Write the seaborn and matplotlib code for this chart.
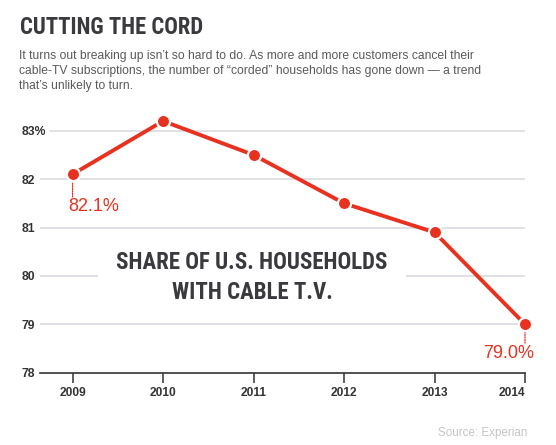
import matplotlib
matplotlib.use('Agg')
import matplotlib.pyplot as plt
import seaborn as sns
import pandas as pd

years = [2009, 2010, 2011, 2012, 2013, 2014]
share = [82.1, 83.2, 82.5, 81.5, 80.9, 79.0]
y_ticks = [78, 79, 80, 81, 82, 83]
y_tick_labels = ['78', '79', '80', '81', '82', '83%']

title = 'CUTTING THE CORD'
subtitle = [
    'It turns out breaking up isn\u2019t so hard to do. As more and more customers cancel their',
    'cable-TV subscriptions, the number of \u201ccorded\u201d households has gone down \u2014 a trend',
    'that\u2019s unlikely to turn.',
]
label = 'SHARE OF U.S. HOUSEHOLDS\nWITH CABLE T.V.'
source = 'Source: Experian'

RED = '#e8321f'
DARK = '#3a3a3e'
GRID = '#dcdce0'
narrow = ['Liberation Sans Narrow', 'Roboto Condensed', 'Roboto', 'DejaVu Sans']

sns.set_theme(style='white')
plt.rcParams['font.family'] = ['Liberation Sans', 'DejaVu Sans']

df = pd.DataFrame({'year': years, 'share': share})

fig = plt.figure(figsize=(5.56, 4.45), dpi=100)
ax = fig.add_axes([40 / 556, 72.3 / 445, 485 / 556, 256.5 / 445])

# grid lines (top one starts after the % label)
for v in y_ticks[1:]:
    ax.axhline(v, xmin=0.02 if v == 83 else 0, xmax=1, color=GRID, lw=1.2, zorder=0)

sns.lineplot(data=df, x='year', y='share', ax=ax, color=RED, lw=2.8,
             marker='o', markersize=9.5, markeredgecolor='white',
             markeredgewidth=1.6, clip_on=False, zorder=5)

ax.set_xlim(2008.64, 2014)
ax.set_ylim(78, 83.3)
ax.set_xticks(years)
ax.set_xticklabels([str(y) for y in years], fontweight='bold', fontsize=8.6, color='#333333')
ax.set_yticks(y_ticks)
ax.set_yticklabels(y_tick_labels, fontweight='bold', fontsize=8.8, color='#333333')
for t in ax.get_yticklabels():
    t.set_horizontalalignment('left')
ax.tick_params(axis='y', length=0, pad=13)
ax.tick_params(axis='x', length=7.5, width=1.1, color='#333333', pad=3, direction='out')
ax.xaxis.set_ticks_position('bottom')
ax.get_xticklabels()[-1].set_horizontalalignment('right')
ax.set_xlabel('')
ax.set_ylabel('')
for s in ['top', 'right', 'left']:
    ax.spines[s].set_visible(False)
ax.spines['bottom'].set_color('#333333')
ax.spines['bottom'].set_linewidth(1.2)

# end point callouts
ax.annotate('', xy=(years[0], share[0]), xytext=(0, -16.3), textcoords='offset points',
            arrowprops=dict(arrowstyle='-', color=RED, lw=0.9, linestyle=(0, (1, 1)),
                            shrinkA=0, shrinkB=5.8))
ax.annotate(f'{share[0]:.1f}%', xy=(years[0], share[0]), xytext=(-3.1, -23.5),
            textcoords='offset points', ha='left', va='center', color=RED, fontsize=13)
ax.annotate('', xy=(years[-1], share[-1]), xytext=(0, -13.5), textcoords='offset points',
            arrowprops=dict(arrowstyle='-', color=RED, lw=0.9, linestyle=(0, (1, 1)),
                            shrinkA=0, shrinkB=5.8))
ax.annotate(f'{share[-1]:.1f}%', xy=(years[-1], share[-1]), xytext=(6.3, -20.7),
            textcoords='offset points', ha='right', va='center', color=RED, fontsize=13)

fig.text(252 / 556, 1 - 277.5 / 445, label, ha='center', va='center', multialignment='center',
         family=narrow, stretch='condensed', fontweight='bold', fontsize=16.5, color=DARK,
         linespacing=1.42, bbox=dict(boxstyle='square,pad=0.8', fc='white', ec='none'), zorder=3)

fig.text(20 / 556, 1 - 34.3 / 445, title, ha='left', va='baseline', family=narrow,
         stretch='condensed', fontweight='bold', fontsize=16.3, color=DARK)
for i, line in enumerate(subtitle):
    fig.text(19 / 556, 1 - (58.7 + 15.3 * i) / 445, line, ha='left', va='baseline',
             fontsize=8.7, color='#5a5a5a')

fig.text(527 / 556, 1 - 435.7 / 445, source, ha='right', va='baseline', fontsize=8.4,
         color='#c4c4c4')

fig.savefig('out.png', dpi=100)
